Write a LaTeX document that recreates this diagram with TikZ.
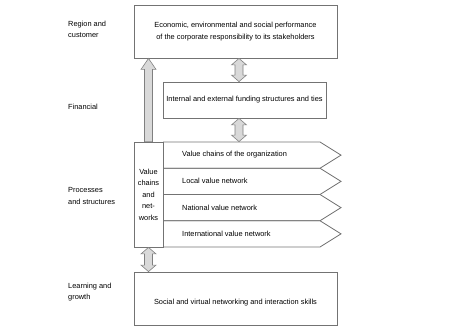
\documentclass[tikz,border=0pt]{standalone}
\usepackage{fontspec}
\setmainfont{Liberation Sans}
\usetikzlibrary{calc}
\tikzset{
  box/.style={draw=black!55, line width=0.8pt, align=center, inner sep=0pt},
  side/.style={anchor=west, align=left, inner sep=0pt},
  rowtext/.style={anchor=west, inner sep=0pt},
  chevron/.style={draw=black!55, line width=0.8pt},
  dblarrow/.style={draw=black!50, fill=black!15, line width=0.6pt,
    to path={let \p1=(\tikztostart), \p2=(\tikztotarget) in
      (\x1,\y1) -- (\x1+7.5pt,\y1-6.5pt) -- (\x1+4pt,\y1-6.5pt) -- (\x1+4pt,\y2+6.5pt)
      -- (\x1+7.5pt,\y2+6.5pt) -- (\x1,\y2) -- (\x1-7.5pt,\y2+6.5pt) -- (\x1-4pt,\y2+6.5pt)
      -- (\x1-4pt,\y1-6.5pt) -- (\x1-7.5pt,\y1-6.5pt) -- cycle}},
  uparrow/.style={draw=black!50, fill=black!15, line width=0.6pt,
    to path={let \p1=(\tikztostart), \p2=(\tikztotarget) in
      (\x1-4pt,\y1) -- (\x1-4pt,\y2-11pt) -- (\x1-7.5pt,\y2-11pt) -- (\x1,\y2)
      -- (\x1+7.5pt,\y2-11pt) -- (\x1+4pt,\y2-11pt) -- (\x1+4pt,\y1) -- cycle}}
}
\begin{document}
\begin{tikzpicture}[x=1pt,y=-1pt,
  every node/.style={font=\fontsize{7.4}{11.5}\selectfont, text=black}]
  \useasboundingbox (0,0) rectangle (474,334);
  % main boxes
  \node[box, minimum width=203pt, minimum height=53pt] (top) at (235.5,31.5)
    {Economic, environmental and social performance\\of the corporate responsibility to its stakeholders};
  \node[box, minimum width=163pt, minimum height=36pt] (fund) at (244.5,100)
    {Internal and external funding structures and ties};
  \node[box, minimum width=29pt, minimum height=105pt] (vcn) at (148.5,194.5)
    {Value\\chains\\and\\net-\\works};
  \node[box, minimum width=203pt, minimum height=53pt] (skills) at (235.5,298.5)
    {\\[3pt]Social and virtual networking and interaction skills};
  % value chain rows
  \foreach \i/\txt in {0/Value chains of the organization, 1/Local value network,
                       2/National value network, 3/International value network} {
    \draw[chevron] (163,142+26.25*\i) -- ++(157,0) -- ++(21,13.125) -- ++(-21,13.125) -- ++(-157,0);
    \node[rowtext] (row\i) at (182,155+26.25*\i) {\txt};
  }
  % perspectives
  \node[side] (region) at (68,29.5) {Region and\\customer};
  \node[side] (financial) at (68,107) {Financial};
  \node[side] (processes) at (68,196) {Processes\\and structures};
  \node[side] (learning) at (68,292) {Learning and\\growth};
  % arrows
  \draw[dblarrow] ([xshift=3.5pt]top.south) to ([xshift=3.5pt]top.south |- fund.north);
  \draw[dblarrow] ([xshift=-5.5pt]fund.south) to ([xshift=-5.5pt]fund.south |- vcn.north);
  \draw[uparrow] (vcn.north) to (vcn.north |- top.south);
  \draw[dblarrow] (vcn.south) to (vcn.south |- skills.north);
\end{tikzpicture}
\end{document}
